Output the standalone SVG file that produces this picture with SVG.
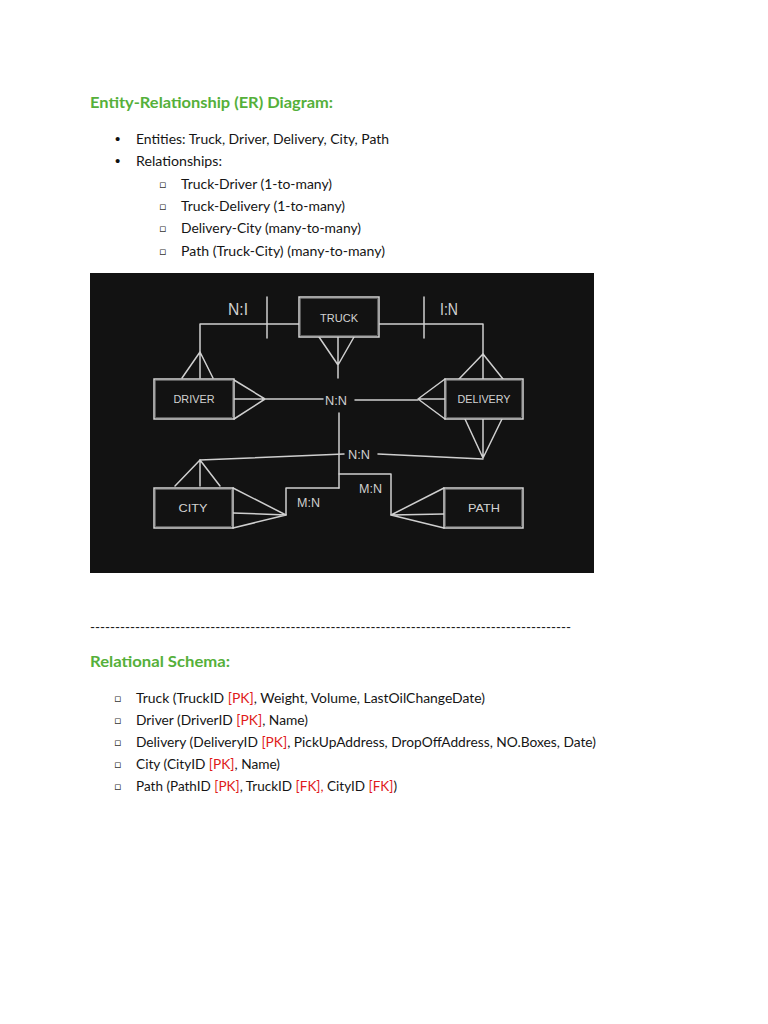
<svg xmlns="http://www.w3.org/2000/svg" width="768" height="1024" viewBox="0 0 768 1024">
<style>
.doc{font-family:Lato,"Liberation Sans",sans-serif;font-size:13.6px;fill:#151515}
.hd{font-family:Lato,"Liberation Sans",sans-serif;font-size:15.5px;font-weight:bold;fill:#55b03a}
.red{fill:#e01b1b}
.sq{font-family:"DejaVu Sans",sans-serif;font-size:11px;fill:#333}
.dot{font-family:"Liberation Sans",sans-serif;font-size:15px;fill:#111}
.box{fill:#121212;stroke:#d4d4d4;stroke-width:1.5}
.box2{fill:none;stroke:#8a8a8a;stroke-width:0.6}
.lbl{font-family:"Liberation Sans",sans-serif;font-size:11.5px;fill:#d2d2d2;text-anchor:middle}
.rl{font-family:"Liberation Sans",sans-serif;font-size:12.5px;fill:#d0d0d0}
.ln{fill:none;stroke:#cfcfcf;stroke-width:1.5;stroke-linecap:round;stroke-linejoin:round}
</style>
<rect width="768" height="1024" fill="#ffffff"/>

<g id="er-text">
<text class="hd" x="90" y="108" textLength="243" lengthAdjust="spacingAndGlyphs">Entity-Relationship (ER) Diagram:</text>
<text class="dot" x="115" y="144">•</text>
<text class="doc" x="136" y="144" textLength="253" lengthAdjust="spacingAndGlyphs">Entities: Truck, Driver, Delivery, City, Path</text>
<text class="dot" x="115" y="166">•</text>
<text class="doc" x="136" y="166" textLength="86" lengthAdjust="spacingAndGlyphs">Relationships:</text>
<text class="sq" x="159" y="188">▫</text>
<text class="doc" x="181" y="189" textLength="151" lengthAdjust="spacingAndGlyphs">Truck-Driver (1-to-many)</text>
<text class="sq" x="159" y="210">▫</text>
<text class="doc" x="181" y="211" textLength="164" lengthAdjust="spacingAndGlyphs">Truck-Delivery (1-to-many)</text>
<text class="sq" x="159" y="232">▫</text>
<text class="doc" x="181" y="233" textLength="180" lengthAdjust="spacingAndGlyphs">Delivery-City (many-to-many)</text>
<text class="sq" x="159" y="255">▫</text>
<text class="doc" x="181" y="256" textLength="204" lengthAdjust="spacingAndGlyphs">Path (Truck-City) (many-to-many)</text>
</g>

<rect id="panel" x="90" y="273" width="504" height="300" fill="#121212"/>

<g id="connectors" class="ln">
<path d="M306 324 H200 V352"/>
<path d="M267 297 V338"/>
<path d="M200 352 L182 378 M200 352 V378 M200 352 L213 378"/>
<path d="M378 324 H483 V354"/>
<path d="M424 297 V338"/>
<path d="M483 354 L459 379 M483 354 V379 M483 354 L503 379"/>
<path d="M319 337 L338 365 L354 337 M338 337 V378"/>
<path d="M234 380 L265 399 L234 419 M234 399 H323"/>
<path d="M355 400 H418"/>
<path d="M445 379 L418 399 L445 419 M418 399 H445"/>
<path d="M339 413 V488"/>
<path d="M465 419 L483 458 L502 419 M483 419 V458"/>
<path d="M483 459 L378 454"/>
<path d="M200 460 L344 454"/>
<path d="M200 460 L175 486 M200 460 V486 M200 460 L220 486"/>
<path d="M233 488 L286 515 L233 528 M233 513 L286 515"/>
<path d="M286 515 V488 H339"/>
<path d="M339 474 H391 V515"/>
<path d="M444 488 L391 515 L444 528 M391 515 L444 514"/>
</g>

<g id="truck">
<rect class="box" x="299" y="297" width="80" height="40"/>
<rect class="box2" x="300.5" y="298.5" width="77" height="37"/>
<text class="lbl" x="339" y="322" textLength="38" lengthAdjust="spacingAndGlyphs">TRUCK</text>
</g>
<g id="driver">
<rect class="box" x="154" y="379" width="80" height="40"/>
<rect class="box2" x="155.5" y="380.5" width="77" height="37"/>
<text class="lbl" x="194" y="403" textLength="41" lengthAdjust="spacingAndGlyphs">DRIVER</text>
</g>
<g id="delivery">
<rect class="box" x="445" y="379" width="78" height="40"/>
<rect class="box2" x="446.5" y="380.5" width="75" height="37"/>
<text class="lbl" x="484" y="403" textLength="53" lengthAdjust="spacingAndGlyphs">DELIVERY</text>
</g>
<g id="city">
<rect class="box" x="154" y="488" width="79" height="40"/>
<rect class="box2" x="155.5" y="489.5" width="76" height="37"/>
<text class="lbl" x="193" y="512" textLength="29" lengthAdjust="spacingAndGlyphs">CITY</text>
</g>
<g id="path">
<rect class="box" x="444" y="488" width="79" height="40"/>
<rect class="box2" x="445.5" y="489.5" width="76" height="37"/>
<text class="lbl" x="484" y="512" textLength="32" lengthAdjust="spacingAndGlyphs">PATH</text>
</g>

<g id="rel-labels">
<text class="rl" x="228" y="315" style="font-size:17px" textLength="20" lengthAdjust="spacingAndGlyphs">N:I</text>
<text class="rl" x="440" y="315" style="font-size:17px" textLength="18" lengthAdjust="spacingAndGlyphs">I:N</text>
<text class="rl" x="325" y="405" textLength="22" lengthAdjust="spacingAndGlyphs">N:N</text>
<text class="rl" x="348" y="459" textLength="22" lengthAdjust="spacingAndGlyphs">N:N</text>
<text class="rl" x="297" y="507" textLength="23" lengthAdjust="spacingAndGlyphs">M:N</text>
<text class="rl" x="359" y="493" textLength="23" lengthAdjust="spacingAndGlyphs">M:N</text>
</g>

<g id="schema-text">
<text class="doc" x="90" y="632" textLength="481" lengthAdjust="spacingAndGlyphs">------------------------------------------------------------------------------------------------</text>
<text class="hd" x="90" y="667" textLength="140" lengthAdjust="spacingAndGlyphs">Relational Schema:</text>
<text class="sq" x="114" y="702">▫</text>
<text class="doc" x="136" y="703" textLength="349" lengthAdjust="spacingAndGlyphs">Truck (TruckID <tspan class="red">[PK]</tspan>, Weight, Volume, LastOilChangeDate)</text>
<text class="sq" x="114" y="724">▫</text>
<text class="doc" x="136" y="725" textLength="172" lengthAdjust="spacingAndGlyphs">Driver (DriverID <tspan class="red">[PK]</tspan>, Name)</text>
<text class="sq" x="114" y="746">▫</text>
<text class="doc" x="136" y="747" textLength="460" lengthAdjust="spacingAndGlyphs">Delivery (DeliveryID <tspan class="red">[PK]</tspan>, PickUpAddress, DropOffAddress, NO.Boxes, Date)</text>
<text class="sq" x="114" y="768">▫</text>
<text class="doc" x="136" y="769" textLength="144" lengthAdjust="spacingAndGlyphs">City (CityID <tspan class="red">[PK]</tspan>, Name)</text>
<text class="sq" x="114" y="790">▫</text>
<text class="doc" x="136" y="791" textLength="261" lengthAdjust="spacingAndGlyphs">Path (PathID <tspan class="red">[PK]</tspan>, TruckID <tspan class="red">[FK],</tspan> CityID <tspan class="red">[FK]</tspan>)</text>
</g>
</svg>
